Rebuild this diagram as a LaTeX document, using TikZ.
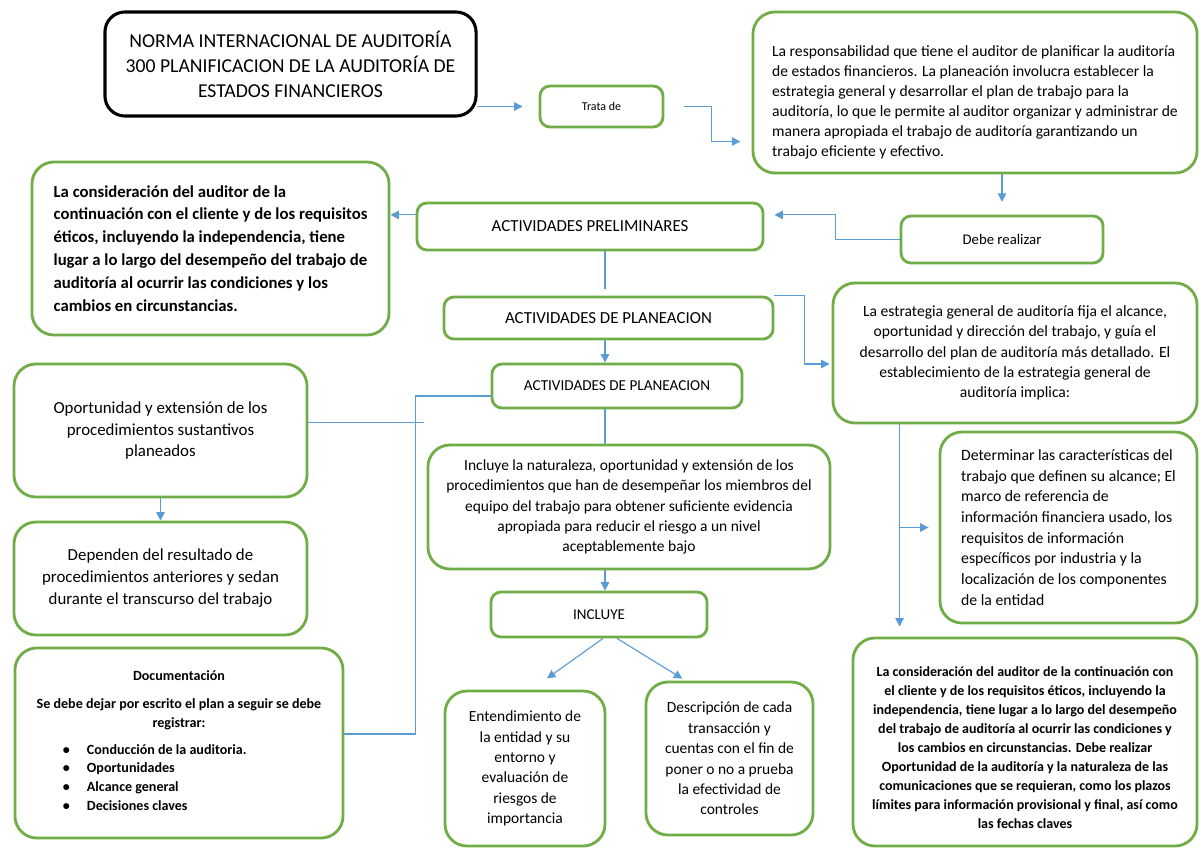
\documentclass[tikz,border=0pt]{standalone}
\usepackage{fontspec}
\setmainfont{Carlito}
\usetikzlibrary{arrows.meta}

\definecolor{boxgreen}{HTML}{70AD47}
\definecolor{linkblue}{HTML}{5B9BD5}

\begin{document}
\begin{tikzpicture}[x=0.025cm, y=-0.025cm, line cap=round, line join=round, >={Triangle[length=6pt, width=6pt]},
    box/.style={draw=boxgreen, line width=2pt, rounded corners=0.55cm, align=center, inner sep=0pt},
    tag/.style={box, rounded corners=0.25cm},
    boxsize/.style 2 args={minimum width=#1cm, minimum height=#2cm},
    link/.style={draw=linkblue, line width=0.8pt}]

    % Page
    \useasboundingbox (0,0) rectangle (1200,848);

    % Title and top row
    \node[box, draw=black, line width=2.2pt, rounded corners=0.5cm, boxsize={9.275}{2.6},
        font=\fontsize{14}{17.7}\selectfont] (title) at (290.5,64)
        {NORMA INTERNACIONAL DE AUDITORÍA\\ 300 PLANIFICACION DE LA AUDITORÍA DE\\ ESTADOS FINANCIEROS};
    \node[tag, boxsize={3.075}{1.025}, font=\fontsize{8.5}{10}\selectfont] (trata) at (601.5,106.5) {Trata de};
    \node[box, align=left, boxsize={11.1}{4.025}, font=\fontsize{11.1}{14.2}\selectfont] (resp) at (975,92.5)
        {\rule{0pt}{22pt}La responsabilidad que tiene el auditor de planificar la auditoría\\
         de estados financieros. La planeación involucra establecer la\\
         estrategia general y desarrollar el plan de trabajo para la\\
         auditoría, lo que le permite al auditor organizar y administrar de\\
         manera apropiada el trabajo de auditoría garantizando un\\
         trabajo eficiente y efectivo.};

    % Preliminary activities
    \node[box, align=left, boxsize={8.925}{4.325}, font=\bfseries\fontsize{11.9}{16.3}\selectfont] (cons) at (210.5,248.5)
        {La consideración del auditor de la\\
         continuación con el cliente y de los requisitos\\
         éticos, incluyendo la independencia, tiene\\
         lugar a lo largo del desempeño del trabajo de\\
         auditoría al ocurrir las condiciones y los\\
         cambios en circunstancias.};
    \node[tag, boxsize={8.65}{1.175}, font=\fontsize{12}{14}\selectfont] (prel) at (590,226.5) {ACTIVIDADES PRELIMINARES};
    \node[tag, boxsize={5.05}{1.175}, font=\fontsize{10.5}{12}\selectfont] (debe) at (1002,239.5) {Debe realizar};

    % Planning activities
    \node[tag, boxsize={8.225}{1.05}, font=\fontsize{12}{14}\selectfont] (plan1) at (608.5,318) {ACTIVIDADES DE PLANEACION};
    \node[box, boxsize={9.1}{3.5}, font=\fontsize{11.1}{14.5}\selectfont] (estr) at (1015,353)
        {La estrategia general de auditoría fija el alcance,\\
         oportunidad y dirección del trabajo, y guía el\\
         desarrollo del plan de auditoría más detallado. El\\
         establecimiento de la estrategia general de\\
         auditoría implica:};
    \node[tag, boxsize={6.25}{1.1}, font=\fontsize{10.8}{13}\selectfont] (plan2) at (617,386) {ACTIVIDADES DE PLANEACION};
    \node[box, boxsize={7.325}{3.325}, font=\fontsize{12}{15.6}\selectfont] (oport) at (160.5,430.5)
        {Oportunidad y extensión de los\\ procedimientos sustantivos\\ planeados};
    \node[box, boxsize={10.05}{3.1}, font=\fontsize{11}{14.5}\selectfont] (incl) at (629,507)
        {Incluye la naturaleza, oportunidad y extensión de los\\
         procedimientos que han de desempeñar los miembros del\\
         equipo del trabajo para obtener suficiente evidencia\\
         apropiada para reducir el riesgo a un nivel\\
         aceptablemente bajo};
    \node[box, align=left, boxsize={6.425}{4.775}, font=\fontsize{11.2}{14.7}\selectfont] (det) at (1068.5,527.5)
        {Determinar las características del\\
         trabajo que definen su alcance; El\\
         marco de referencia de\\
         información financiera usado, los\\
         requisitos de información\\
         específicos por industria y la\\
         localización de los componentes\\
         de la entidad};
    \node[box, boxsize={7.325}{2.825}, font=\fontsize{12}{15.6}\selectfont] (dep) at (160.5,578.5)
        {Dependen del resultado de\\ procedimientos anteriores y sedan\\ durante el transcurso del trabajo};
    \node[tag, boxsize={5.4}{1.125}, font=\fontsize{10.7}{13}\selectfont] (incluye) at (599,614.5) {INCLUYE};

    % Bottom row
    \node[box, boxsize={8.2}{4.75}, font=\bfseries\fontsize{10}{13.3}\selectfont] (doc) at (179,743)
        {Documentación\\[7pt]
         Se debe dejar por escrito el plan a seguir se debe\\
         registrar:\\[7pt]
         \begin{tabular}{@{}p{0.6cm}@{}p{5.2cm}@{}}
         \textbullet & Conducción de la auditoria.\\
         \textbullet & Oportunidades\\
         \textbullet & Alcance general\\
         \textbullet & Decisiones claves
         \end{tabular}};
    \node[box, boxsize={4.0}{3.875}, font=\fontsize{11}{14.5}\selectfont] (ent) at (525,768.5)
        {Entendimiento de\\ la entidad y su\\ entorno y\\ evaluación de\\ riesgos de\\ importancia};
    \node[box, boxsize={4.175}{3.825}, font=\fontsize{11}{14.5}\selectfont] (desc) at (729.5,758.5)
        {Descripción de cada\\ transacción y\\ cuentas con el fin de\\ poner o no a prueba\\ la efectividad de\\ controles};
    \node[box, boxsize={8.6}{5.2}, font=\bfseries\fontsize{9.95}{13.5}\selectfont] (cons2) at (1025,742)
        {\rule{0pt}{15pt}La consideración del auditor de la continuación con\\
         el cliente y de los requisitos éticos, incluyendo la\\
         independencia, tiene lugar a lo largo del desempeño\\
         del trabajo de auditoría al ocurrir las condiciones y\\
         los cambios en circunstancias. Debe realizar\\
         Oportunidad de la auditoría y la naturaleza de las\\
         comunicaciones que se requieran, como los plazos\\
         límites para información provisional y final, así como\\
         las fechas claves};

    % Helper points
    \coordinate (axis) at (605,0);
    \coordinate (prelin) at ([yshift=0.29cm]prel.east);
    \coordinate (prelout) at ([yshift=0.29cm]prel.west);
    \coordinate (drop) at ([xshift=1.7cm]estr.south west);

    % Connectors
    \draw[link, ->, shorten >=0.4cm] (title.east |- trata.west) -- (trata.west);
    \draw[link, ->, shorten <=0.5cm, shorten >=0.28cm] (trata.east) -- ++(47,0) |- ([yshift=-1.225cm]resp.west);
    \draw[link, ->, shorten >=0.32cm] (debe.north |- resp.south) -- (debe.north);
    \draw[link, ->, shorten >=0.25cm] (debe.west) -- ++(-64,0) |- (prelin);
    \draw[link, ->] (prelout) -- (prelout -| cons.east);
    \draw[link, shorten >=0.17cm] (axis |- prel.south) -- (axis |- plan1.north);
    \draw[link, ->, shorten >=0.05cm] (plan1.north east) -- ++(30,0) |- ([yshift=-0.275cm]estr.west);
    \draw[link, ->] (axis |- plan1.south) -- (axis |- plan2.north);
    \draw[link] ([yshift=-0.25cm]plan2.west) -- ++(-75,0) |- ([yshift=0.225cm]doc.east);
    \draw[link] ([yshift=0.21cm]oport.east) -- ++(115,0);
    \draw[link] (axis |- plan2.south) -- (axis |- incl.north);
    \draw[link, ->] (oport.south) -- (dep.north);
    \draw[link, ->] (axis |- incl.south) -- (axis |- incluye.north);
    \draw[link, ->] ([xshift=0.1cm]incluye.south) -- ([xshift=0.55cm, yshift=0.28cm]ent.north);
    \draw[link, ->] ([xshift=0.45cm]incluye.south) -- ([xshift=-1.18cm, yshift=0.05cm]desc.north);
    \draw[link, ->, shorten >=0.25cm] (drop) -- (drop |- cons2.north);
    \draw[link, ->, shorten >=0.25cm] (drop |- det.west) -- (det.west);

\end{tikzpicture}
\end{document}
